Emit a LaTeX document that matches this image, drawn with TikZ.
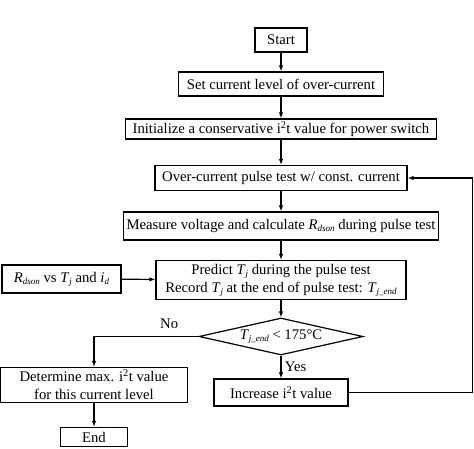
\documentclass[tikz,border=0pt]{standalone}
\usepackage{fontspec}
\setmainfont{Liberation Serif}
\usetikzlibrary{arrows.meta,shapes.geometric}
\newcommand{\sub}[1]{\raisebox{-2.2pt}{\fontsize{9}{9}\selectfont\textit{#1}}}
\newcommand{\Rds}{\textit{R}\sub{dson}}
\newcommand{\Tj}{\textit{T}\sub{j}}
\newcommand{\Tjend}{\textit{T}\sub{j\_end}}
\newcommand{\itt}{i\textsuperscript{2}t}
\begin{document}
\begin{tikzpicture}[x=1pt, y=1pt, >={Latex[length=6pt,width=4.5pt]},
  box/.style = {draw, line width=1.2pt, inner xsep=1.5pt, inner ysep=1.5pt, minimum height=24pt, align=center,
    font=\fontsize{14.7}{18}\selectfont},
  cond/.style = {draw, diamond, line width=1.2pt, aspect=4.5, inner sep=0.5pt,
    minimum width=164pt, minimum height=37pt, font=\fontsize{14.7}{16}\selectfont},
  lbl/.style = {font=\fontsize{14.7}{16}\selectfont},
  every path/.style = {line width=1.2pt}]
\useasboundingbox (0,0) rectangle (474,449);
\node[box, minimum width=52pt] (start) at (281,409) {Start};
\node[box, minimum width=205pt] (level) [below of=start, node distance=44pt] {Set current level of over-current};
\node[box, minimum width=311pt, minimum height=20pt] (init) [below of=level, node distance=45pt] {Initialize a conservative \itt{} value for power switch};
\node[box, minimum width=252pt, minimum height=25pt] (pulse) [below of=init, node distance=49pt] {Over-current pulse test w/ const. current};
\node[box, minimum width=315pt, minimum height=28pt] (measure) [below of=pulse, node distance=48pt] {Measure voltage and calculate \Rds{} during pulse test};
\node[box, minimum width=250pt, minimum height=39pt] (predict) [below of=measure, node distance=54pt] {Predict \Tj{} during the pulse test\\Record \Tj{} at the end of pulse test: \Tjend};
\node[cond] (check) [below of=predict, node distance=56.5pt] {\Tjend{} < 175°C};
\node[box, minimum width=134pt, minimum height=27pt] (increase) [below of=check, node distance=56pt] {Increase \itt{} value};
\node[box, minimum width=119pt, minimum height=28pt] (model) at (61.5,170) {\Rds{} vs \Tj{} and \textit{i}\sub{d}};
\node[box, minimum width=187pt, minimum height=35pt] (maxval) at (94,64) {Determine max. \itt{} value\\for this current level};
\node[box, minimum width=67pt, minimum height=19pt] (end) [below of=maxval, node distance=52pt] {End};
\coordinate (loop) at (472.5,271);
\draw[->] (start) -- (level);
\draw[->] (level) -- (init);
\draw[->] (init) -- (pulse);
\draw[->] (pulse) -- (measure);
\draw[->] (measure) -- (predict);
\draw[->] (model) -- (predict);
\draw[->] (predict) -- (check);
\draw[->] (check) -- node[right, lbl]{Yes} (increase);
\draw[->] (check) -| node[pos=0.14, above=4pt, lbl]{No} (maxval);
\draw[->] (maxval) -- (end);
\draw[->] (increase) -| (loop) -- (pulse);
\end{tikzpicture}
\end{document}
